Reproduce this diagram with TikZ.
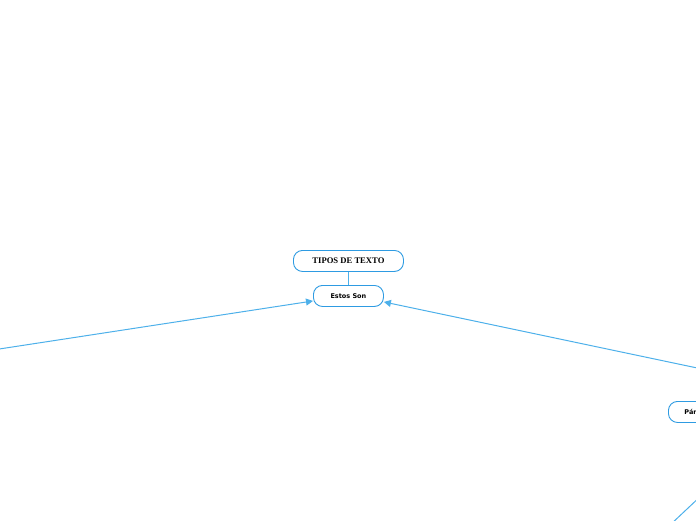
\documentclass[tikz,border=0pt]{standalone}
\usepackage{fontspec}
\setmainfont{Liberation Serif}
\newfontfamily\boxsans{DejaVu Sans}
\usetikzlibrary{arrows.meta}
\definecolor{linkblue}{HTML}{4DB0EA}
\definecolor{boxblue}{HTML}{2E9BE2}
\tikzset{
  topicbox/.style={draw=boxblue, line width=0.9pt, fill=white, rounded corners=9pt,
    minimum height=21pt, inner sep=0pt, anchor=north west},
  link/.style={draw=linkblue, line width=1pt},
  linkarrow/.style={link, -{Triangle[length=7pt,width=7pt]}}
}
\begin{document}
\begin{tikzpicture}[x=1pt,y=-1pt]
\useasboundingbox (0,0) rectangle (696,520);
\clip (0,0) rectangle (696,520);
% off-canvas ends
\coordinate (leftend) at (-40,355);
\coordinate (rightend) at (740,377);
\coordinate (brend) at (720,478);
\coordinate (brstart) at (670,525);
% nodes
\node[topicbox, minimum width=110pt] (root) at (293,250)
  {\bfseries\fontsize{8.6}{10}\selectfont TIPOS DE TEXTO};
\node[topicbox, minimum width=70pt] (estos) at (313,285)
  {\boxsans\bfseries\fontsize{6.5}{8}\selectfont Estos Son};
\node[topicbox, minimum width=90pt, anchor=north west, align=left, text width=80pt] (parr) at (668,401)
  {\hspace*{11pt}\boxsans\bfseries\fontsize{6.5}{8}\selectfont Párrafo};
\coordinate (estosL) at ([yshift=-5pt]estos.west);
\coordinate (estosR) at ([yshift=-6pt]estos.east);
% connectors
\draw[link] (root.south) -- (estos.north);
\draw[linkarrow] (leftend) -- (estosL);
\draw[linkarrow] (rightend) -- (estosR);
\draw[link] (brstart) -- (brend);
\end{tikzpicture}
\end{document}
